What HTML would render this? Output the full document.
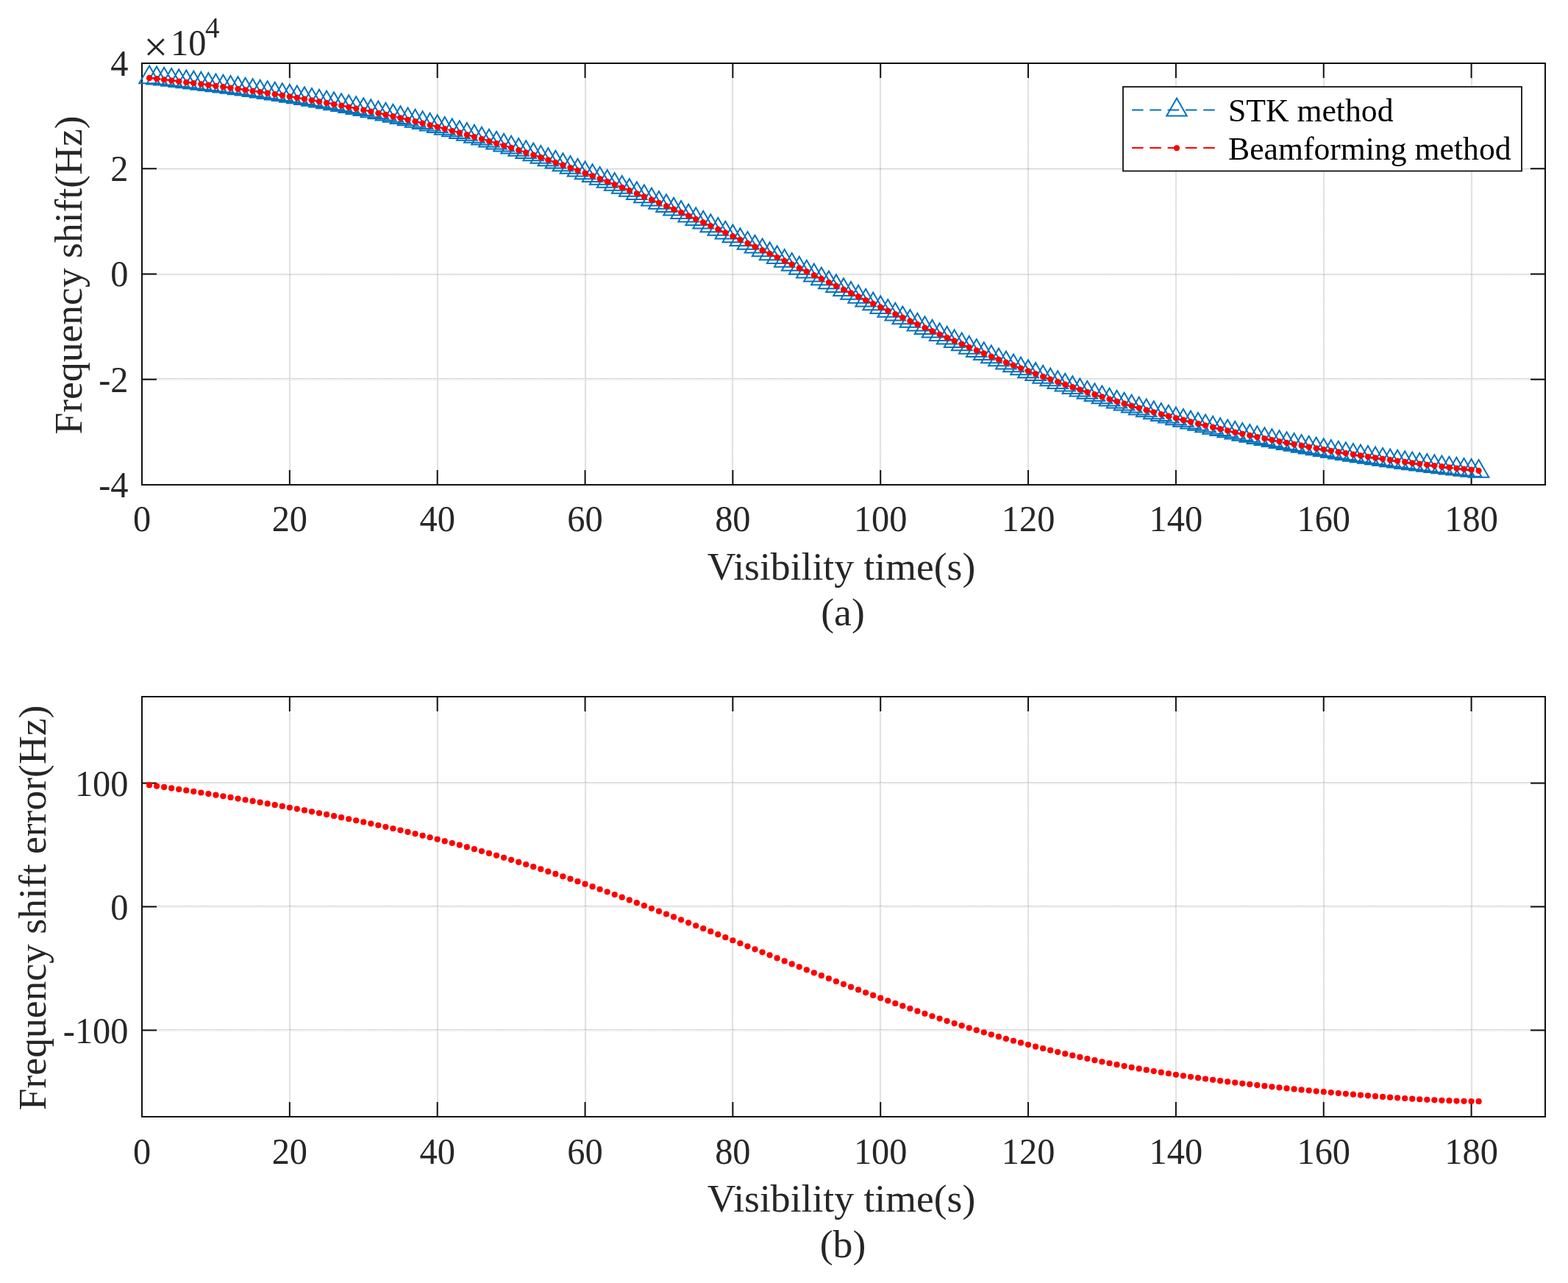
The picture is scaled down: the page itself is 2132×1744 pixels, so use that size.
<!DOCTYPE html><html><head><meta charset="utf-8"><style>html,body{margin:0;padding:0;background:#fff;overflow:hidden;}svg{display:block}</style></head><body>
<svg width="2132" height="1744" viewBox="0 0 2132 1744" font-family="'Liberation Serif', 'Times New Roman', serif">
<rect width="2132" height="1744" fill="#fff"/>
<defs><pattern id="gv" patternUnits="userSpaceOnUse" width="2" height="2"><rect x="0" y="0" width="1" height="1" fill="#c6c6c6"/><rect x="1" y="1" width="1" height="1" fill="#c6c6c6"/></pattern><pattern id="gh" patternUnits="userSpaceOnUse" width="2" height="3"><rect x="1" y="0" width="1" height="1" fill="#e2e2e2"/><rect x="0" y="1" width="1" height="1" fill="#b2b2b2"/><rect x="1" y="2" width="1" height="1" fill="#e2e2e2"/></pattern></defs>
<g><rect x="393" y="87" width="2" height="571" fill="url(#gv)"/><rect x="594" y="87" width="2" height="571" fill="url(#gv)"/><rect x="795" y="87" width="2" height="571" fill="url(#gv)"/><rect x="995" y="87" width="2" height="571" fill="url(#gv)"/><rect x="1196" y="87" width="2" height="571" fill="url(#gv)"/><rect x="1397" y="87" width="2" height="571" fill="url(#gv)"/><rect x="1598" y="87" width="2" height="571" fill="url(#gv)"/><rect x="1799" y="87" width="2" height="571" fill="url(#gv)"/><rect x="2000" y="87" width="2" height="571" fill="url(#gv)"/><rect x="194" y="514" width="1906" height="3" fill="url(#gh)"/><rect x="194" y="371" width="1906" height="3" fill="url(#gh)"/><rect x="194" y="228" width="1906" height="3" fill="url(#gh)"/></g>
<g><rect x="393" y="948" width="2" height="569" fill="url(#gv)"/><rect x="594" y="948" width="2" height="569" fill="url(#gv)"/><rect x="795" y="948" width="2" height="569" fill="url(#gv)"/><rect x="995" y="948" width="2" height="569" fill="url(#gv)"/><rect x="1196" y="948" width="2" height="569" fill="url(#gv)"/><rect x="1397" y="948" width="2" height="569" fill="url(#gv)"/><rect x="1598" y="948" width="2" height="569" fill="url(#gv)"/><rect x="1799" y="948" width="2" height="569" fill="url(#gv)"/><rect x="2000" y="948" width="2" height="569" fill="url(#gv)"/><rect x="194" y="1399" width="1906" height="3" fill="url(#gh)"/><rect x="194" y="1231" width="1906" height="3" fill="url(#gh)"/><rect x="194" y="1063" width="1906" height="3" fill="url(#gh)"/></g>
<g stroke="#111111" stroke-width="2" fill="none"><rect x="193.0" y="86.0" width="1908.0" height="573.0" fill="none"/><line x1="393.84" y1="659.0" x2="393.84" y2="639.0"/><line x1="393.84" y1="86.0" x2="393.84" y2="106.0"/><line x1="594.68" y1="659.0" x2="594.68" y2="639.0"/><line x1="594.68" y1="86.0" x2="594.68" y2="106.0"/><line x1="795.53" y1="659.0" x2="795.53" y2="639.0"/><line x1="795.53" y1="86.0" x2="795.53" y2="106.0"/><line x1="996.37" y1="659.0" x2="996.37" y2="639.0"/><line x1="996.37" y1="86.0" x2="996.37" y2="106.0"/><line x1="1197.21" y1="659.0" x2="1197.21" y2="639.0"/><line x1="1197.21" y1="86.0" x2="1197.21" y2="106.0"/><line x1="1398.05" y1="659.0" x2="1398.05" y2="639.0"/><line x1="1398.05" y1="86.0" x2="1398.05" y2="106.0"/><line x1="1598.89" y1="659.0" x2="1598.89" y2="639.0"/><line x1="1598.89" y1="86.0" x2="1598.89" y2="106.0"/><line x1="1799.74" y1="659.0" x2="1799.74" y2="639.0"/><line x1="1799.74" y1="86.0" x2="1799.74" y2="106.0"/><line x1="2000.58" y1="659.0" x2="2000.58" y2="639.0"/><line x1="2000.58" y1="86.0" x2="2000.58" y2="106.0"/><line x1="193.0" y1="515.75" x2="213.0" y2="515.75"/><line x1="2101.0" y1="515.75" x2="2081.0" y2="515.75"/><line x1="193.0" y1="372.50" x2="213.0" y2="372.50"/><line x1="2101.0" y1="372.50" x2="2081.0" y2="372.50"/><line x1="193.0" y1="229.25" x2="213.0" y2="229.25"/><line x1="2101.0" y1="229.25" x2="2081.0" y2="229.25"/></g>
<g stroke="#111111" stroke-width="2" fill="none"><rect x="193.0" y="947.0" width="1908.0" height="571.0" fill="none"/><line x1="393.84" y1="1518.0" x2="393.84" y2="1498.0"/><line x1="393.84" y1="947.0" x2="393.84" y2="967.0"/><line x1="594.68" y1="1518.0" x2="594.68" y2="1498.0"/><line x1="594.68" y1="947.0" x2="594.68" y2="967.0"/><line x1="795.53" y1="1518.0" x2="795.53" y2="1498.0"/><line x1="795.53" y1="947.0" x2="795.53" y2="967.0"/><line x1="996.37" y1="1518.0" x2="996.37" y2="1498.0"/><line x1="996.37" y1="947.0" x2="996.37" y2="967.0"/><line x1="1197.21" y1="1518.0" x2="1197.21" y2="1498.0"/><line x1="1197.21" y1="947.0" x2="1197.21" y2="967.0"/><line x1="1398.05" y1="1518.0" x2="1398.05" y2="1498.0"/><line x1="1398.05" y1="947.0" x2="1398.05" y2="967.0"/><line x1="1598.89" y1="1518.0" x2="1598.89" y2="1498.0"/><line x1="1598.89" y1="947.0" x2="1598.89" y2="967.0"/><line x1="1799.74" y1="1518.0" x2="1799.74" y2="1498.0"/><line x1="1799.74" y1="947.0" x2="1799.74" y2="967.0"/><line x1="2000.58" y1="1518.0" x2="2000.58" y2="1498.0"/><line x1="2000.58" y1="947.0" x2="2000.58" y2="967.0"/><line x1="193.0" y1="1400.44" x2="213.0" y2="1400.44"/><line x1="2101.0" y1="1400.44" x2="2081.0" y2="1400.44"/><line x1="193.0" y1="1232.50" x2="213.0" y2="1232.50"/><line x1="2101.0" y1="1232.50" x2="2081.0" y2="1232.50"/><line x1="193.0" y1="1064.56" x2="213.0" y2="1064.56"/><line x1="2101.0" y1="1064.56" x2="2081.0" y2="1064.56"/></g>
<polyline points="203.04,105.29 213.08,106.49 223.13,107.69 233.17,108.88 243.21,110.08 253.25,111.29 263.29,112.51 273.34,113.74 283.38,115.00 293.42,116.28 303.46,117.58 313.51,118.91 323.55,120.27 333.59,121.67 343.63,123.09 353.67,124.55 363.72,126.05 373.76,127.58 383.80,129.15 393.84,130.76 403.88,132.41 413.93,134.10 423.97,135.83 434.01,137.60 444.05,139.41 454.09,141.27 464.14,143.17 474.18,145.12 484.22,147.11 494.26,149.14 504.31,151.23 514.35,153.36 524.39,155.54 534.43,157.76 544.47,160.04 554.52,162.37 564.56,164.75 574.60,167.18 584.64,169.67 594.68,172.20 604.73,174.80 614.77,177.45 624.81,180.15 634.85,182.91 644.89,185.73 654.94,188.61 664.98,191.55 675.02,194.55 685.06,197.60 695.11,200.72 705.15,203.90 715.19,207.14 725.23,210.44 735.27,213.80 745.32,217.23 755.36,220.71 765.40,224.26 775.44,227.87 785.48,231.55 795.53,235.28 805.57,239.07 815.61,242.93 825.65,246.84 835.69,250.81 845.74,254.84 855.78,258.93 865.82,263.07 875.86,267.27 885.91,271.52 895.95,275.82 905.99,280.17 916.03,284.57 926.07,289.02 936.12,293.51 946.16,298.04 956.20,302.62 966.24,307.23 976.28,311.88 986.33,316.57 996.37,321.28 1006.41,326.03 1016.45,330.80 1026.49,335.60 1036.54,340.41 1046.58,345.25 1056.62,350.10 1066.66,354.97 1076.71,359.85 1086.75,364.73 1096.79,369.62 1106.83,374.51 1116.87,379.40 1126.92,384.29 1136.96,389.17 1147.00,394.04 1157.04,398.89 1167.08,403.73 1177.13,408.56 1187.17,413.36 1197.21,418.14 1207.25,422.89 1217.29,427.62 1227.34,432.31 1237.38,436.97 1247.42,441.59 1257.46,446.17 1267.51,450.72 1277.55,455.22 1287.59,459.67 1297.63,464.08 1307.67,468.44 1317.72,472.75 1327.76,477.01 1337.80,481.21 1347.84,485.36 1357.88,489.45 1367.93,493.48 1377.97,497.46 1388.01,501.37 1398.05,505.23 1408.09,509.02 1418.14,512.76 1428.18,516.43 1438.22,520.03 1448.26,523.58 1458.31,527.06 1468.35,530.48 1478.39,533.83 1488.43,537.13 1498.47,540.36 1508.52,543.53 1518.56,546.63 1528.60,549.68 1538.64,552.67 1548.68,555.59 1558.73,558.46 1568.77,561.27 1578.81,564.02 1588.85,566.72 1598.89,569.36 1608.94,571.95 1618.98,574.48 1629.02,576.96 1639.06,579.39 1649.11,581.77 1659.15,584.11 1669.19,586.39 1679.23,588.63 1689.27,590.82 1699.32,592.97 1709.36,595.07 1719.40,597.13 1729.44,599.15 1739.48,601.13 1749.53,603.07 1759.57,604.97 1769.61,606.83 1779.65,608.66 1789.69,610.44 1799.74,612.19 1809.78,613.91 1819.82,615.58 1829.86,617.22 1839.91,618.83 1849.95,620.40 1859.99,621.93 1870.03,623.43 1880.07,624.89 1890.12,626.32 1900.16,627.72 1910.20,629.08 1920.24,630.41 1930.28,631.70 1940.33,632.96 1950.37,634.19 1960.41,635.39 1970.45,636.55 1980.49,637.69 1990.54,638.80 2000.58,639.88 2010.62,640.94" fill="none" stroke="#0072BD" stroke-width="2" stroke-dasharray="15.6 8.7"/>
<path d="M203.04,89.39L216.79,113.19L189.29,113.19ZM213.08,90.59L226.83,114.39L199.33,114.39ZM223.13,91.79L236.88,115.59L209.38,115.59ZM233.17,92.98L246.92,116.78L219.42,116.78ZM243.21,94.18L256.96,117.98L229.46,117.98ZM253.25,95.39L267.00,119.19L239.50,119.19ZM263.29,96.61L277.04,120.41L249.54,120.41ZM273.34,97.84L287.09,121.64L259.59,121.64ZM283.38,99.10L297.13,122.90L269.63,122.90ZM293.42,100.38L307.17,124.18L279.67,124.18ZM303.46,101.68L317.21,125.48L289.71,125.48ZM313.51,103.01L327.26,126.81L299.76,126.81ZM323.55,104.37L337.30,128.17L309.80,128.17ZM333.59,105.77L347.34,129.57L319.84,129.57ZM343.63,107.19L357.38,130.99L329.88,130.99ZM353.67,108.65L367.42,132.45L339.92,132.45ZM363.72,110.15L377.47,133.95L349.97,133.95ZM373.76,111.68L387.51,135.48L360.01,135.48ZM383.80,113.25L397.55,137.05L370.05,137.05ZM393.84,114.86L407.59,138.66L380.09,138.66ZM403.88,116.51L417.63,140.31L390.13,140.31ZM413.93,118.20L427.68,142.00L400.18,142.00ZM423.97,119.93L437.72,143.73L410.22,143.73ZM434.01,121.70L447.76,145.50L420.26,145.50ZM444.05,123.51L457.80,147.31L430.30,147.31ZM454.09,125.37L467.84,149.17L440.34,149.17ZM464.14,127.27L477.89,151.07L450.39,151.07ZM474.18,129.22L487.93,153.02L460.43,153.02ZM484.22,131.21L497.97,155.01L470.47,155.01ZM494.26,133.24L508.01,157.04L480.51,157.04ZM504.31,135.33L518.06,159.13L490.56,159.13ZM514.35,137.46L528.10,161.26L500.60,161.26ZM524.39,139.64L538.14,163.44L510.64,163.44ZM534.43,141.86L548.18,165.66L520.68,165.66ZM544.47,144.14L558.22,167.94L530.72,167.94ZM554.52,146.47L568.27,170.27L540.77,170.27ZM564.56,148.85L578.31,172.65L550.81,172.65ZM574.60,151.28L588.35,175.08L560.85,175.08ZM584.64,153.77L598.39,177.57L570.89,177.57ZM594.68,156.30L608.43,180.10L580.93,180.10ZM604.73,158.90L618.48,182.70L590.98,182.70ZM614.77,161.55L628.52,185.35L601.02,185.35ZM624.81,164.25L638.56,188.05L611.06,188.05ZM634.85,167.01L648.60,190.81L621.10,190.81ZM644.89,169.83L658.64,193.63L631.14,193.63ZM654.94,172.71L668.69,196.51L641.19,196.51ZM664.98,175.65L678.73,199.45L651.23,199.45ZM675.02,178.65L688.77,202.45L661.27,202.45ZM685.06,181.70L698.81,205.50L671.31,205.50ZM695.11,184.82L708.86,208.62L681.36,208.62ZM705.15,188.00L718.90,211.80L691.40,211.80ZM715.19,191.24L728.94,215.04L701.44,215.04ZM725.23,194.54L738.98,218.34L711.48,218.34ZM735.27,197.90L749.02,221.70L721.52,221.70ZM745.32,201.33L759.07,225.13L731.57,225.13ZM755.36,204.81L769.11,228.61L741.61,228.61ZM765.40,208.36L779.15,232.16L751.65,232.16ZM775.44,211.97L789.19,235.77L761.69,235.77ZM785.48,215.65L799.23,239.45L771.73,239.45ZM795.53,219.38L809.28,243.18L781.78,243.18ZM805.57,223.17L819.32,246.97L791.82,246.97ZM815.61,227.03L829.36,250.83L801.86,250.83ZM825.65,230.94L839.40,254.74L811.90,254.74ZM835.69,234.91L849.44,258.71L821.94,258.71ZM845.74,238.94L859.49,262.74L831.99,262.74ZM855.78,243.03L869.53,266.83L842.03,266.83ZM865.82,247.17L879.57,270.97L852.07,270.97ZM875.86,251.37L889.61,275.17L862.11,275.17ZM885.91,255.62L899.66,279.42L872.16,279.42ZM895.95,259.92L909.70,283.72L882.20,283.72ZM905.99,264.27L919.74,288.07L892.24,288.07ZM916.03,268.67L929.78,292.47L902.28,292.47ZM926.07,273.12L939.82,296.92L912.32,296.92ZM936.12,277.61L949.87,301.41L922.37,301.41ZM946.16,282.14L959.91,305.94L932.41,305.94ZM956.20,286.72L969.95,310.52L942.45,310.52ZM966.24,291.33L979.99,315.13L952.49,315.13ZM976.28,295.98L990.03,319.78L962.53,319.78ZM986.33,300.67L1000.08,324.47L972.58,324.47ZM996.37,305.38L1010.12,329.18L982.62,329.18ZM1006.41,310.13L1020.16,333.93L992.66,333.93ZM1016.45,314.90L1030.20,338.70L1002.70,338.70ZM1026.49,319.70L1040.24,343.50L1012.74,343.50ZM1036.54,324.51L1050.29,348.31L1022.79,348.31ZM1046.58,329.35L1060.33,353.15L1032.83,353.15ZM1056.62,334.20L1070.37,358.00L1042.87,358.00ZM1066.66,339.07L1080.41,362.87L1052.91,362.87ZM1076.71,343.95L1090.46,367.75L1062.96,367.75ZM1086.75,348.83L1100.50,372.63L1073.00,372.63ZM1096.79,353.72L1110.54,377.52L1083.04,377.52ZM1106.83,358.61L1120.58,382.41L1093.08,382.41ZM1116.87,363.50L1130.62,387.30L1103.12,387.30ZM1126.92,368.39L1140.67,392.19L1113.17,392.19ZM1136.96,373.27L1150.71,397.07L1123.21,397.07ZM1147.00,378.14L1160.75,401.94L1133.25,401.94ZM1157.04,382.99L1170.79,406.79L1143.29,406.79ZM1167.08,387.83L1180.83,411.63L1153.33,411.63ZM1177.13,392.66L1190.88,416.46L1163.38,416.46ZM1187.17,397.46L1200.92,421.26L1173.42,421.26ZM1197.21,402.24L1210.96,426.04L1183.46,426.04ZM1207.25,406.99L1221.00,430.79L1193.50,430.79ZM1217.29,411.72L1231.04,435.52L1203.54,435.52ZM1227.34,416.41L1241.09,440.21L1213.59,440.21ZM1237.38,421.07L1251.13,444.87L1223.63,444.87ZM1247.42,425.69L1261.17,449.49L1233.67,449.49ZM1257.46,430.27L1271.21,454.07L1243.71,454.07ZM1267.51,434.82L1281.26,458.62L1253.76,458.62ZM1277.55,439.32L1291.30,463.12L1263.80,463.12ZM1287.59,443.77L1301.34,467.57L1273.84,467.57ZM1297.63,448.18L1311.38,471.98L1283.88,471.98ZM1307.67,452.54L1321.42,476.34L1293.92,476.34ZM1317.72,456.85L1331.47,480.65L1303.97,480.65ZM1327.76,461.11L1341.51,484.91L1314.01,484.91ZM1337.80,465.31L1351.55,489.11L1324.05,489.11ZM1347.84,469.46L1361.59,493.26L1334.09,493.26ZM1357.88,473.55L1371.63,497.35L1344.13,497.35ZM1367.93,477.58L1381.68,501.38L1354.18,501.38ZM1377.97,481.56L1391.72,505.36L1364.22,505.36ZM1388.01,485.47L1401.76,509.27L1374.26,509.27ZM1398.05,489.33L1411.80,513.13L1384.30,513.13ZM1408.09,493.12L1421.84,516.92L1394.34,516.92ZM1418.14,496.86L1431.89,520.66L1404.39,520.66ZM1428.18,500.53L1441.93,524.33L1414.43,524.33ZM1438.22,504.13L1451.97,527.93L1424.47,527.93ZM1448.26,507.68L1462.01,531.48L1434.51,531.48ZM1458.31,511.16L1472.06,534.96L1444.56,534.96ZM1468.35,514.58L1482.10,538.38L1454.60,538.38ZM1478.39,517.93L1492.14,541.73L1464.64,541.73ZM1488.43,521.23L1502.18,545.03L1474.68,545.03ZM1498.47,524.46L1512.22,548.26L1484.72,548.26ZM1508.52,527.63L1522.27,551.43L1494.77,551.43ZM1518.56,530.73L1532.31,554.53L1504.81,554.53ZM1528.60,533.78L1542.35,557.58L1514.85,557.58ZM1538.64,536.77L1552.39,560.57L1524.89,560.57ZM1548.68,539.69L1562.43,563.49L1534.93,563.49ZM1558.73,542.56L1572.48,566.36L1544.98,566.36ZM1568.77,545.37L1582.52,569.17L1555.02,569.17ZM1578.81,548.12L1592.56,571.92L1565.06,571.92ZM1588.85,550.82L1602.60,574.62L1575.10,574.62ZM1598.89,553.46L1612.64,577.26L1585.14,577.26ZM1608.94,556.05L1622.69,579.85L1595.19,579.85ZM1618.98,558.58L1632.73,582.38L1605.23,582.38ZM1629.02,561.06L1642.77,584.86L1615.27,584.86ZM1639.06,563.49L1652.81,587.29L1625.31,587.29ZM1649.11,565.87L1662.86,589.67L1635.36,589.67ZM1659.15,568.21L1672.90,592.01L1645.40,592.01ZM1669.19,570.49L1682.94,594.29L1655.44,594.29ZM1679.23,572.73L1692.98,596.53L1665.48,596.53ZM1689.27,574.92L1703.02,598.72L1675.52,598.72ZM1699.32,577.07L1713.07,600.87L1685.57,600.87ZM1709.36,579.17L1723.11,602.97L1695.61,602.97ZM1719.40,581.23L1733.15,605.03L1705.65,605.03ZM1729.44,583.25L1743.19,607.05L1715.69,607.05ZM1739.48,585.23L1753.23,609.03L1725.73,609.03ZM1749.53,587.17L1763.28,610.97L1735.78,610.97ZM1759.57,589.07L1773.32,612.87L1745.82,612.87ZM1769.61,590.93L1783.36,614.73L1755.86,614.73ZM1779.65,592.76L1793.40,616.56L1765.90,616.56ZM1789.69,594.54L1803.44,618.34L1775.94,618.34ZM1799.74,596.29L1813.49,620.09L1785.99,620.09ZM1809.78,598.01L1823.53,621.81L1796.03,621.81ZM1819.82,599.68L1833.57,623.48L1806.07,623.48ZM1829.86,601.32L1843.61,625.12L1816.11,625.12ZM1839.91,602.93L1853.66,626.73L1826.16,626.73ZM1849.95,604.50L1863.70,628.30L1836.20,628.30ZM1859.99,606.03L1873.74,629.83L1846.24,629.83ZM1870.03,607.53L1883.78,631.33L1856.28,631.33ZM1880.07,608.99L1893.82,632.79L1866.32,632.79ZM1890.12,610.42L1903.87,634.22L1876.37,634.22ZM1900.16,611.82L1913.91,635.62L1886.41,635.62ZM1910.20,613.18L1923.95,636.98L1896.45,636.98ZM1920.24,614.51L1933.99,638.31L1906.49,638.31ZM1930.28,615.80L1944.03,639.60L1916.53,639.60ZM1940.33,617.06L1954.08,640.86L1926.58,640.86ZM1950.37,618.29L1964.12,642.09L1936.62,642.09ZM1960.41,619.49L1974.16,643.29L1946.66,643.29ZM1970.45,620.65L1984.20,644.45L1956.70,644.45ZM1980.49,621.79L1994.24,645.59L1966.74,645.59ZM1990.54,622.90L2004.29,646.70L1976.79,646.70ZM2000.58,623.98L2014.33,647.78L1986.83,647.78ZM2010.62,625.04L2024.37,648.84L1996.87,648.84Z" fill="none" stroke="#0072BD" stroke-width="2" stroke-linejoin="miter"/>
<polyline points="203.04,105.99 213.08,107.19 223.13,108.38 233.17,109.57 243.21,110.76 253.25,111.96 263.29,113.17 273.34,114.40 283.38,115.65 293.42,116.92 303.46,118.22 313.51,119.55 323.55,120.90 333.59,122.29 343.63,123.70 353.67,125.16 363.72,126.65 373.76,128.17 383.80,129.73 393.84,131.34 403.88,132.98 413.93,134.66 423.97,136.38 434.01,138.14 444.05,139.95 454.09,141.80 464.14,143.69 474.18,145.63 484.22,147.61 494.26,149.63 504.31,151.71 514.35,153.83 524.39,156.00 534.43,158.22 544.47,160.48 554.52,162.80 564.56,165.17 574.60,167.59 584.64,170.07 594.68,172.60 604.73,175.18 614.77,177.82 624.81,180.51 634.85,183.26 644.89,186.07 654.94,188.93 664.98,191.86 675.02,194.84 685.06,197.89 695.11,200.99 705.15,204.16 715.19,207.38 725.23,210.67 735.27,214.02 745.32,217.43 755.36,220.90 765.40,224.44 775.44,228.04 785.48,231.69 795.53,235.41 805.57,239.19 815.61,243.03 825.65,246.93 835.69,250.88 845.74,254.90 855.78,258.97 865.82,263.10 875.86,267.28 885.91,271.51 895.95,275.79 905.99,280.13 916.03,284.51 926.07,288.94 936.12,293.42 946.16,297.93 956.20,302.49 966.24,307.09 976.28,311.72 986.33,316.39 996.37,321.09 1006.41,325.82 1016.45,330.57 1026.49,335.35 1036.54,340.15 1046.58,344.97 1056.62,349.81 1066.66,354.65 1076.71,359.51 1086.75,364.38 1096.79,369.25 1106.83,374.13 1116.87,379.00 1126.92,383.87 1136.96,388.73 1147.00,393.59 1157.04,398.43 1167.08,403.25 1177.13,408.06 1187.17,412.85 1197.21,417.61 1207.25,422.35 1217.29,427.06 1227.34,431.73 1237.38,436.38 1247.42,440.99 1257.46,445.56 1267.51,450.08 1277.55,454.57 1287.59,459.01 1297.63,463.41 1307.67,467.75 1317.72,472.05 1327.76,476.29 1337.80,480.48 1347.84,484.62 1357.88,488.70 1367.93,492.72 1377.97,496.68 1388.01,500.59 1398.05,504.43 1408.09,508.21 1418.14,511.93 1428.18,515.59 1438.22,519.19 1448.26,522.73 1458.31,526.20 1468.35,529.61 1478.39,532.95 1488.43,536.24 1498.47,539.46 1508.52,542.62 1518.56,545.72 1528.60,548.76 1538.64,551.73 1548.68,554.65 1558.73,557.51 1568.77,560.32 1578.81,563.06 1588.85,565.75 1598.89,568.38 1608.94,570.97 1618.98,573.49 1629.02,575.97 1639.06,578.39 1649.11,580.77 1659.15,583.10 1669.19,585.38 1679.23,587.61 1689.27,589.80 1699.32,591.94 1709.36,594.04 1719.40,596.10 1729.44,598.11 1739.48,600.09 1749.53,602.02 1759.57,603.92 1769.61,605.77 1779.65,607.59 1789.69,609.37 1799.74,611.12 1809.78,612.83 1819.82,614.50 1829.86,616.14 1839.91,617.74 1849.95,619.30 1859.99,620.84 1870.03,622.33 1880.07,623.79 1890.12,625.22 1900.16,626.61 1910.20,627.97 1920.24,629.29 1930.28,630.59 1940.33,631.84 1950.37,633.07 1960.41,634.26 1970.45,635.43 1980.49,636.56 1990.54,637.67 2000.58,638.75 2010.62,639.81" fill="none" stroke="#FF0000" stroke-width="2" stroke-dasharray="15.6 8.7"/>
<g fill="#FF0000"><circle cx="203.04" cy="105.99" r="4.15"/><circle cx="213.08" cy="107.19" r="4.15"/><circle cx="223.13" cy="108.38" r="4.15"/><circle cx="233.17" cy="109.57" r="4.15"/><circle cx="243.21" cy="110.76" r="4.15"/><circle cx="253.25" cy="111.96" r="4.15"/><circle cx="263.29" cy="113.17" r="4.15"/><circle cx="273.34" cy="114.40" r="4.15"/><circle cx="283.38" cy="115.65" r="4.15"/><circle cx="293.42" cy="116.92" r="4.15"/><circle cx="303.46" cy="118.22" r="4.15"/><circle cx="313.51" cy="119.55" r="4.15"/><circle cx="323.55" cy="120.90" r="4.15"/><circle cx="333.59" cy="122.29" r="4.15"/><circle cx="343.63" cy="123.70" r="4.15"/><circle cx="353.67" cy="125.16" r="4.15"/><circle cx="363.72" cy="126.65" r="4.15"/><circle cx="373.76" cy="128.17" r="4.15"/><circle cx="383.80" cy="129.73" r="4.15"/><circle cx="393.84" cy="131.34" r="4.15"/><circle cx="403.88" cy="132.98" r="4.15"/><circle cx="413.93" cy="134.66" r="4.15"/><circle cx="423.97" cy="136.38" r="4.15"/><circle cx="434.01" cy="138.14" r="4.15"/><circle cx="444.05" cy="139.95" r="4.15"/><circle cx="454.09" cy="141.80" r="4.15"/><circle cx="464.14" cy="143.69" r="4.15"/><circle cx="474.18" cy="145.63" r="4.15"/><circle cx="484.22" cy="147.61" r="4.15"/><circle cx="494.26" cy="149.63" r="4.15"/><circle cx="504.31" cy="151.71" r="4.15"/><circle cx="514.35" cy="153.83" r="4.15"/><circle cx="524.39" cy="156.00" r="4.15"/><circle cx="534.43" cy="158.22" r="4.15"/><circle cx="544.47" cy="160.48" r="4.15"/><circle cx="554.52" cy="162.80" r="4.15"/><circle cx="564.56" cy="165.17" r="4.15"/><circle cx="574.60" cy="167.59" r="4.15"/><circle cx="584.64" cy="170.07" r="4.15"/><circle cx="594.68" cy="172.60" r="4.15"/><circle cx="604.73" cy="175.18" r="4.15"/><circle cx="614.77" cy="177.82" r="4.15"/><circle cx="624.81" cy="180.51" r="4.15"/><circle cx="634.85" cy="183.26" r="4.15"/><circle cx="644.89" cy="186.07" r="4.15"/><circle cx="654.94" cy="188.93" r="4.15"/><circle cx="664.98" cy="191.86" r="4.15"/><circle cx="675.02" cy="194.84" r="4.15"/><circle cx="685.06" cy="197.89" r="4.15"/><circle cx="695.11" cy="200.99" r="4.15"/><circle cx="705.15" cy="204.16" r="4.15"/><circle cx="715.19" cy="207.38" r="4.15"/><circle cx="725.23" cy="210.67" r="4.15"/><circle cx="735.27" cy="214.02" r="4.15"/><circle cx="745.32" cy="217.43" r="4.15"/><circle cx="755.36" cy="220.90" r="4.15"/><circle cx="765.40" cy="224.44" r="4.15"/><circle cx="775.44" cy="228.04" r="4.15"/><circle cx="785.48" cy="231.69" r="4.15"/><circle cx="795.53" cy="235.41" r="4.15"/><circle cx="805.57" cy="239.19" r="4.15"/><circle cx="815.61" cy="243.03" r="4.15"/><circle cx="825.65" cy="246.93" r="4.15"/><circle cx="835.69" cy="250.88" r="4.15"/><circle cx="845.74" cy="254.90" r="4.15"/><circle cx="855.78" cy="258.97" r="4.15"/><circle cx="865.82" cy="263.10" r="4.15"/><circle cx="875.86" cy="267.28" r="4.15"/><circle cx="885.91" cy="271.51" r="4.15"/><circle cx="895.95" cy="275.79" r="4.15"/><circle cx="905.99" cy="280.13" r="4.15"/><circle cx="916.03" cy="284.51" r="4.15"/><circle cx="926.07" cy="288.94" r="4.15"/><circle cx="936.12" cy="293.42" r="4.15"/><circle cx="946.16" cy="297.93" r="4.15"/><circle cx="956.20" cy="302.49" r="4.15"/><circle cx="966.24" cy="307.09" r="4.15"/><circle cx="976.28" cy="311.72" r="4.15"/><circle cx="986.33" cy="316.39" r="4.15"/><circle cx="996.37" cy="321.09" r="4.15"/><circle cx="1006.41" cy="325.82" r="4.15"/><circle cx="1016.45" cy="330.57" r="4.15"/><circle cx="1026.49" cy="335.35" r="4.15"/><circle cx="1036.54" cy="340.15" r="4.15"/><circle cx="1046.58" cy="344.97" r="4.15"/><circle cx="1056.62" cy="349.81" r="4.15"/><circle cx="1066.66" cy="354.65" r="4.15"/><circle cx="1076.71" cy="359.51" r="4.15"/><circle cx="1086.75" cy="364.38" r="4.15"/><circle cx="1096.79" cy="369.25" r="4.15"/><circle cx="1106.83" cy="374.13" r="4.15"/><circle cx="1116.87" cy="379.00" r="4.15"/><circle cx="1126.92" cy="383.87" r="4.15"/><circle cx="1136.96" cy="388.73" r="4.15"/><circle cx="1147.00" cy="393.59" r="4.15"/><circle cx="1157.04" cy="398.43" r="4.15"/><circle cx="1167.08" cy="403.25" r="4.15"/><circle cx="1177.13" cy="408.06" r="4.15"/><circle cx="1187.17" cy="412.85" r="4.15"/><circle cx="1197.21" cy="417.61" r="4.15"/><circle cx="1207.25" cy="422.35" r="4.15"/><circle cx="1217.29" cy="427.06" r="4.15"/><circle cx="1227.34" cy="431.73" r="4.15"/><circle cx="1237.38" cy="436.38" r="4.15"/><circle cx="1247.42" cy="440.99" r="4.15"/><circle cx="1257.46" cy="445.56" r="4.15"/><circle cx="1267.51" cy="450.08" r="4.15"/><circle cx="1277.55" cy="454.57" r="4.15"/><circle cx="1287.59" cy="459.01" r="4.15"/><circle cx="1297.63" cy="463.41" r="4.15"/><circle cx="1307.67" cy="467.75" r="4.15"/><circle cx="1317.72" cy="472.05" r="4.15"/><circle cx="1327.76" cy="476.29" r="4.15"/><circle cx="1337.80" cy="480.48" r="4.15"/><circle cx="1347.84" cy="484.62" r="4.15"/><circle cx="1357.88" cy="488.70" r="4.15"/><circle cx="1367.93" cy="492.72" r="4.15"/><circle cx="1377.97" cy="496.68" r="4.15"/><circle cx="1388.01" cy="500.59" r="4.15"/><circle cx="1398.05" cy="504.43" r="4.15"/><circle cx="1408.09" cy="508.21" r="4.15"/><circle cx="1418.14" cy="511.93" r="4.15"/><circle cx="1428.18" cy="515.59" r="4.15"/><circle cx="1438.22" cy="519.19" r="4.15"/><circle cx="1448.26" cy="522.73" r="4.15"/><circle cx="1458.31" cy="526.20" r="4.15"/><circle cx="1468.35" cy="529.61" r="4.15"/><circle cx="1478.39" cy="532.95" r="4.15"/><circle cx="1488.43" cy="536.24" r="4.15"/><circle cx="1498.47" cy="539.46" r="4.15"/><circle cx="1508.52" cy="542.62" r="4.15"/><circle cx="1518.56" cy="545.72" r="4.15"/><circle cx="1528.60" cy="548.76" r="4.15"/><circle cx="1538.64" cy="551.73" r="4.15"/><circle cx="1548.68" cy="554.65" r="4.15"/><circle cx="1558.73" cy="557.51" r="4.15"/><circle cx="1568.77" cy="560.32" r="4.15"/><circle cx="1578.81" cy="563.06" r="4.15"/><circle cx="1588.85" cy="565.75" r="4.15"/><circle cx="1598.89" cy="568.38" r="4.15"/><circle cx="1608.94" cy="570.97" r="4.15"/><circle cx="1618.98" cy="573.49" r="4.15"/><circle cx="1629.02" cy="575.97" r="4.15"/><circle cx="1639.06" cy="578.39" r="4.15"/><circle cx="1649.11" cy="580.77" r="4.15"/><circle cx="1659.15" cy="583.10" r="4.15"/><circle cx="1669.19" cy="585.38" r="4.15"/><circle cx="1679.23" cy="587.61" r="4.15"/><circle cx="1689.27" cy="589.80" r="4.15"/><circle cx="1699.32" cy="591.94" r="4.15"/><circle cx="1709.36" cy="594.04" r="4.15"/><circle cx="1719.40" cy="596.10" r="4.15"/><circle cx="1729.44" cy="598.11" r="4.15"/><circle cx="1739.48" cy="600.09" r="4.15"/><circle cx="1749.53" cy="602.02" r="4.15"/><circle cx="1759.57" cy="603.92" r="4.15"/><circle cx="1769.61" cy="605.77" r="4.15"/><circle cx="1779.65" cy="607.59" r="4.15"/><circle cx="1789.69" cy="609.37" r="4.15"/><circle cx="1799.74" cy="611.12" r="4.15"/><circle cx="1809.78" cy="612.83" r="4.15"/><circle cx="1819.82" cy="614.50" r="4.15"/><circle cx="1829.86" cy="616.14" r="4.15"/><circle cx="1839.91" cy="617.74" r="4.15"/><circle cx="1849.95" cy="619.30" r="4.15"/><circle cx="1859.99" cy="620.84" r="4.15"/><circle cx="1870.03" cy="622.33" r="4.15"/><circle cx="1880.07" cy="623.79" r="4.15"/><circle cx="1890.12" cy="625.22" r="4.15"/><circle cx="1900.16" cy="626.61" r="4.15"/><circle cx="1910.20" cy="627.97" r="4.15"/><circle cx="1920.24" cy="629.29" r="4.15"/><circle cx="1930.28" cy="630.59" r="4.15"/><circle cx="1940.33" cy="631.84" r="4.15"/><circle cx="1950.37" cy="633.07" r="4.15"/><circle cx="1960.41" cy="634.26" r="4.15"/><circle cx="1970.45" cy="635.43" r="4.15"/><circle cx="1980.49" cy="636.56" r="4.15"/><circle cx="1990.54" cy="637.67" r="4.15"/><circle cx="2000.58" cy="638.75" r="4.15"/><circle cx="2010.62" cy="639.81" r="4.15"/></g>
<g fill="#FF0000"><circle cx="203.04" cy="1067.14" r="4.1"/><circle cx="213.08" cy="1068.53" r="4.1"/><circle cx="223.13" cy="1069.96" r="4.1"/><circle cx="233.17" cy="1071.42" r="4.1"/><circle cx="243.21" cy="1072.90" r="4.1"/><circle cx="253.25" cy="1074.40" r="4.1"/><circle cx="263.29" cy="1075.93" r="4.1"/><circle cx="273.34" cy="1077.49" r="4.1"/><circle cx="283.38" cy="1079.06" r="4.1"/><circle cx="293.42" cy="1080.66" r="4.1"/><circle cx="303.46" cy="1082.27" r="4.1"/><circle cx="313.51" cy="1083.91" r="4.1"/><circle cx="323.55" cy="1085.56" r="4.1"/><circle cx="333.59" cy="1087.24" r="4.1"/><circle cx="343.63" cy="1088.94" r="4.1"/><circle cx="353.67" cy="1090.66" r="4.1"/><circle cx="363.72" cy="1092.40" r="4.1"/><circle cx="373.76" cy="1094.16" r="4.1"/><circle cx="383.80" cy="1095.94" r="4.1"/><circle cx="393.84" cy="1097.75" r="4.1"/><circle cx="403.88" cy="1099.59" r="4.1"/><circle cx="413.93" cy="1101.45" r="4.1"/><circle cx="423.97" cy="1103.34" r="4.1"/><circle cx="434.01" cy="1105.26" r="4.1"/><circle cx="444.05" cy="1107.20" r="4.1"/><circle cx="454.09" cy="1109.18" r="4.1"/><circle cx="464.14" cy="1111.19" r="4.1"/><circle cx="474.18" cy="1113.24" r="4.1"/><circle cx="484.22" cy="1115.32" r="4.1"/><circle cx="494.26" cy="1117.43" r="4.1"/><circle cx="504.31" cy="1119.58" r="4.1"/><circle cx="514.35" cy="1121.77" r="4.1"/><circle cx="524.39" cy="1124.00" r="4.1"/><circle cx="534.43" cy="1126.27" r="4.1"/><circle cx="544.47" cy="1128.58" r="4.1"/><circle cx="554.52" cy="1130.94" r="4.1"/><circle cx="564.56" cy="1133.34" r="4.1"/><circle cx="574.60" cy="1135.78" r="4.1"/><circle cx="584.64" cy="1138.27" r="4.1"/><circle cx="594.68" cy="1140.80" r="4.1"/><circle cx="604.73" cy="1143.39" r="4.1"/><circle cx="614.77" cy="1146.01" r="4.1"/><circle cx="624.81" cy="1148.69" r="4.1"/><circle cx="634.85" cy="1151.42" r="4.1"/><circle cx="644.89" cy="1154.19" r="4.1"/><circle cx="654.94" cy="1157.02" r="4.1"/><circle cx="664.98" cy="1159.89" r="4.1"/><circle cx="675.02" cy="1162.81" r="4.1"/><circle cx="685.06" cy="1165.79" r="4.1"/><circle cx="695.11" cy="1168.81" r="4.1"/><circle cx="705.15" cy="1171.88" r="4.1"/><circle cx="715.19" cy="1175.00" r="4.1"/><circle cx="725.23" cy="1178.17" r="4.1"/><circle cx="735.27" cy="1181.38" r="4.1"/><circle cx="745.32" cy="1184.65" r="4.1"/><circle cx="755.36" cy="1187.96" r="4.1"/><circle cx="765.40" cy="1191.32" r="4.1"/><circle cx="775.44" cy="1194.72" r="4.1"/><circle cx="785.48" cy="1198.16" r="4.1"/><circle cx="795.53" cy="1201.65" r="4.1"/><circle cx="805.57" cy="1205.19" r="4.1"/><circle cx="815.61" cy="1208.76" r="4.1"/><circle cx="825.65" cy="1212.37" r="4.1"/><circle cx="835.69" cy="1216.02" r="4.1"/><circle cx="845.74" cy="1219.71" r="4.1"/><circle cx="855.78" cy="1223.43" r="4.1"/><circle cx="865.82" cy="1227.19" r="4.1"/><circle cx="875.86" cy="1230.98" r="4.1"/><circle cx="885.91" cy="1234.80" r="4.1"/><circle cx="895.95" cy="1238.64" r="4.1"/><circle cx="905.99" cy="1242.52" r="4.1"/><circle cx="916.03" cy="1246.42" r="4.1"/><circle cx="926.07" cy="1250.34" r="4.1"/><circle cx="936.12" cy="1254.28" r="4.1"/><circle cx="946.16" cy="1258.24" r="4.1"/><circle cx="956.20" cy="1262.22" r="4.1"/><circle cx="966.24" cy="1266.21" r="4.1"/><circle cx="976.28" cy="1270.21" r="4.1"/><circle cx="986.33" cy="1274.22" r="4.1"/><circle cx="996.37" cy="1278.24" r="4.1"/><circle cx="1006.41" cy="1282.27" r="4.1"/><circle cx="1016.45" cy="1286.29" r="4.1"/><circle cx="1026.49" cy="1290.32" r="4.1"/><circle cx="1036.54" cy="1294.35" r="4.1"/><circle cx="1046.58" cy="1298.37" r="4.1"/><circle cx="1056.62" cy="1302.39" r="4.1"/><circle cx="1066.66" cy="1306.39" r="4.1"/><circle cx="1076.71" cy="1310.39" r="4.1"/><circle cx="1086.75" cy="1314.37" r="4.1"/><circle cx="1096.79" cy="1318.34" r="4.1"/><circle cx="1106.83" cy="1322.29" r="4.1"/><circle cx="1116.87" cy="1326.21" r="4.1"/><circle cx="1126.92" cy="1330.12" r="4.1"/><circle cx="1136.96" cy="1334.00" r="4.1"/><circle cx="1147.00" cy="1337.85" r="4.1"/><circle cx="1157.04" cy="1341.67" r="4.1"/><circle cx="1167.08" cy="1345.47" r="4.1"/><circle cx="1177.13" cy="1349.23" r="4.1"/><circle cx="1187.17" cy="1352.95" r="4.1"/><circle cx="1197.21" cy="1356.63" r="4.1"/><circle cx="1207.25" cy="1360.28" r="4.1"/><circle cx="1217.29" cy="1363.88" r="4.1"/><circle cx="1227.34" cy="1367.45" r="4.1"/><circle cx="1237.38" cy="1370.96" r="4.1"/><circle cx="1247.42" cy="1374.44" r="4.1"/><circle cx="1257.46" cy="1377.86" r="4.1"/><circle cx="1267.51" cy="1381.23" r="4.1"/><circle cx="1277.55" cy="1384.56" r="4.1"/><circle cx="1287.59" cy="1387.83" r="4.1"/><circle cx="1297.63" cy="1391.05" r="4.1"/><circle cx="1307.67" cy="1394.21" r="4.1"/><circle cx="1317.72" cy="1397.32" r="4.1"/><circle cx="1327.76" cy="1400.37" r="4.1"/><circle cx="1337.80" cy="1403.37" r="4.1"/><circle cx="1347.84" cy="1406.31" r="4.1"/><circle cx="1357.88" cy="1409.19" r="4.1"/><circle cx="1367.93" cy="1412.01" r="4.1"/><circle cx="1377.97" cy="1414.77" r="4.1"/><circle cx="1388.01" cy="1417.47" r="4.1"/><circle cx="1398.05" cy="1420.11" r="4.1"/><circle cx="1408.09" cy="1422.69" r="4.1"/><circle cx="1418.14" cy="1425.21" r="4.1"/><circle cx="1428.18" cy="1427.67" r="4.1"/><circle cx="1438.22" cy="1430.07" r="4.1"/><circle cx="1448.26" cy="1432.41" r="4.1"/><circle cx="1458.31" cy="1434.69" r="4.1"/><circle cx="1468.35" cy="1436.92" r="4.1"/><circle cx="1478.39" cy="1439.08" r="4.1"/><circle cx="1488.43" cy="1441.19" r="4.1"/><circle cx="1498.47" cy="1443.24" r="4.1"/><circle cx="1508.52" cy="1445.23" r="4.1"/><circle cx="1518.56" cy="1447.16" r="4.1"/><circle cx="1528.60" cy="1449.05" r="4.1"/><circle cx="1538.64" cy="1450.88" r="4.1"/><circle cx="1548.68" cy="1452.65" r="4.1"/><circle cx="1558.73" cy="1454.38" r="4.1"/><circle cx="1568.77" cy="1456.06" r="4.1"/><circle cx="1578.81" cy="1457.68" r="4.1"/><circle cx="1588.85" cy="1459.26" r="4.1"/><circle cx="1598.89" cy="1460.80" r="4.1"/><circle cx="1608.94" cy="1462.29" r="4.1"/><circle cx="1618.98" cy="1463.74" r="4.1"/><circle cx="1629.02" cy="1465.15" r="4.1"/><circle cx="1639.06" cy="1466.51" r="4.1"/><circle cx="1649.11" cy="1467.84" r="4.1"/><circle cx="1659.15" cy="1469.14" r="4.1"/><circle cx="1669.19" cy="1470.39" r="4.1"/><circle cx="1679.23" cy="1471.62" r="4.1"/><circle cx="1689.27" cy="1472.81" r="4.1"/><circle cx="1699.32" cy="1473.97" r="4.1"/><circle cx="1709.36" cy="1475.11" r="4.1"/><circle cx="1719.40" cy="1476.22" r="4.1"/><circle cx="1729.44" cy="1477.30" r="4.1"/><circle cx="1739.48" cy="1478.35" r="4.1"/><circle cx="1749.53" cy="1479.38" r="4.1"/><circle cx="1759.57" cy="1480.39" r="4.1"/><circle cx="1769.61" cy="1481.38" r="4.1"/><circle cx="1779.65" cy="1482.34" r="4.1"/><circle cx="1789.69" cy="1483.29" r="4.1"/><circle cx="1799.74" cy="1484.21" r="4.1"/><circle cx="1809.78" cy="1485.12" r="4.1"/><circle cx="1819.82" cy="1486.01" r="4.1"/><circle cx="1829.86" cy="1486.87" r="4.1"/><circle cx="1839.91" cy="1487.72" r="4.1"/><circle cx="1849.95" cy="1488.55" r="4.1"/><circle cx="1859.99" cy="1489.35" r="4.1"/><circle cx="1870.03" cy="1490.14" r="4.1"/><circle cx="1880.07" cy="1490.89" r="4.1"/><circle cx="1890.12" cy="1491.63" r="4.1"/><circle cx="1900.16" cy="1492.33" r="4.1"/><circle cx="1910.20" cy="1493.01" r="4.1"/><circle cx="1920.24" cy="1493.65" r="4.1"/><circle cx="1930.28" cy="1494.25" r="4.1"/><circle cx="1940.33" cy="1494.82" r="4.1"/><circle cx="1950.37" cy="1495.34" r="4.1"/><circle cx="1960.41" cy="1495.81" r="4.1"/><circle cx="1970.45" cy="1496.22" r="4.1"/><circle cx="1980.49" cy="1496.58" r="4.1"/><circle cx="1990.54" cy="1496.87" r="4.1"/><circle cx="2000.58" cy="1497.09" r="4.1"/><circle cx="2010.62" cy="1497.22" r="4.1"/></g>
<g font-size="48.4" fill="#262626"><text transform="translate(193.00,722.4) scale(1,1.035)" text-anchor="middle">0</text><text transform="translate(193.00,1581.8) scale(1,1.035)" text-anchor="middle">0</text><text transform="translate(393.84,722.4) scale(1,1.035)" text-anchor="middle">20</text><text transform="translate(393.84,1581.8) scale(1,1.035)" text-anchor="middle">20</text><text transform="translate(594.68,722.4) scale(1,1.035)" text-anchor="middle">40</text><text transform="translate(594.68,1581.8) scale(1,1.035)" text-anchor="middle">40</text><text transform="translate(795.53,722.4) scale(1,1.035)" text-anchor="middle">60</text><text transform="translate(795.53,1581.8) scale(1,1.035)" text-anchor="middle">60</text><text transform="translate(996.37,722.4) scale(1,1.035)" text-anchor="middle">80</text><text transform="translate(996.37,1581.8) scale(1,1.035)" text-anchor="middle">80</text><text transform="translate(1197.21,722.4) scale(1,1.035)" text-anchor="middle">100</text><text transform="translate(1197.21,1581.8) scale(1,1.035)" text-anchor="middle">100</text><text transform="translate(1398.05,722.4) scale(1,1.035)" text-anchor="middle">120</text><text transform="translate(1398.05,1581.8) scale(1,1.035)" text-anchor="middle">120</text><text transform="translate(1598.89,722.4) scale(1,1.035)" text-anchor="middle">140</text><text transform="translate(1598.89,1581.8) scale(1,1.035)" text-anchor="middle">140</text><text transform="translate(1799.74,722.4) scale(1,1.035)" text-anchor="middle">160</text><text transform="translate(1799.74,1581.8) scale(1,1.035)" text-anchor="middle">160</text><text transform="translate(2000.58,722.4) scale(1,1.035)" text-anchor="middle">180</text><text transform="translate(2000.58,1581.8) scale(1,1.035)" text-anchor="middle">180</text><text transform="translate(174.5,675.90) scale(1,1.035)" text-anchor="end">-4</text><text transform="translate(174.5,532.65) scale(1,1.035)" text-anchor="end">-2</text><text transform="translate(174.5,389.40) scale(1,1.035)" text-anchor="end">0</text><text transform="translate(174.5,246.15) scale(1,1.035)" text-anchor="end">2</text><text transform="translate(174.5,102.90) scale(1,1.035)" text-anchor="end">4</text><text transform="translate(174.5,1417.64) scale(1,1.035)" text-anchor="end">-100</text><text transform="translate(174.5,1249.70) scale(1,1.035)" text-anchor="end">0</text><text transform="translate(174.5,1081.76) scale(1,1.035)" text-anchor="end">100</text></g>
<text x="195.4" y="82.8" font-size="58" fill="#262626">×</text>
<text transform="translate(232.1,75.2) scale(1,1.035)" font-size="48.4" fill="#262626">10</text>
<text x="279" y="51" font-size="39" fill="#262626">4</text>
<g font-size="53.6" fill="#262626"><text x="1144" y="788.4" text-anchor="middle">Visibility time(s)</text><text x="1146" y="850.4" text-anchor="middle">(a)</text><text x="1144" y="1647.4" text-anchor="middle">Visibility time(s)</text><text x="1146" y="1709.4" text-anchor="middle">(b)</text><text transform="translate(111,374) rotate(-90)" text-anchor="middle">Frequency shift(Hz)</text><text transform="translate(62.4,1234) rotate(-90)" text-anchor="middle">Frequency shift error(Hz)</text></g>
<rect x="1527" y="118" width="542" height="114.5" fill="#fff" stroke="#111111" stroke-width="1.8"/><line x1="1539" y1="149.5" x2="1652" y2="149.5" stroke="#0072BD" stroke-width="2" stroke-dasharray="15.6 8.7"/><path d="M1600,133.6L1613.75,157.4L1586.25,157.4Z" fill="none" stroke="#0072BD" stroke-width="2"/><line x1="1539" y1="201" x2="1652" y2="201" stroke="#FF0000" stroke-width="2" stroke-dasharray="15.6 8.7"/><circle cx="1600" cy="201.2" r="4" fill="#FF0000"/><text x="1670" y="165.1" font-size="43.7" fill="#000">STK method</text><text x="1670" y="216.7" font-size="43.7" fill="#000">Beamforming method</text>
</svg></body></html>
